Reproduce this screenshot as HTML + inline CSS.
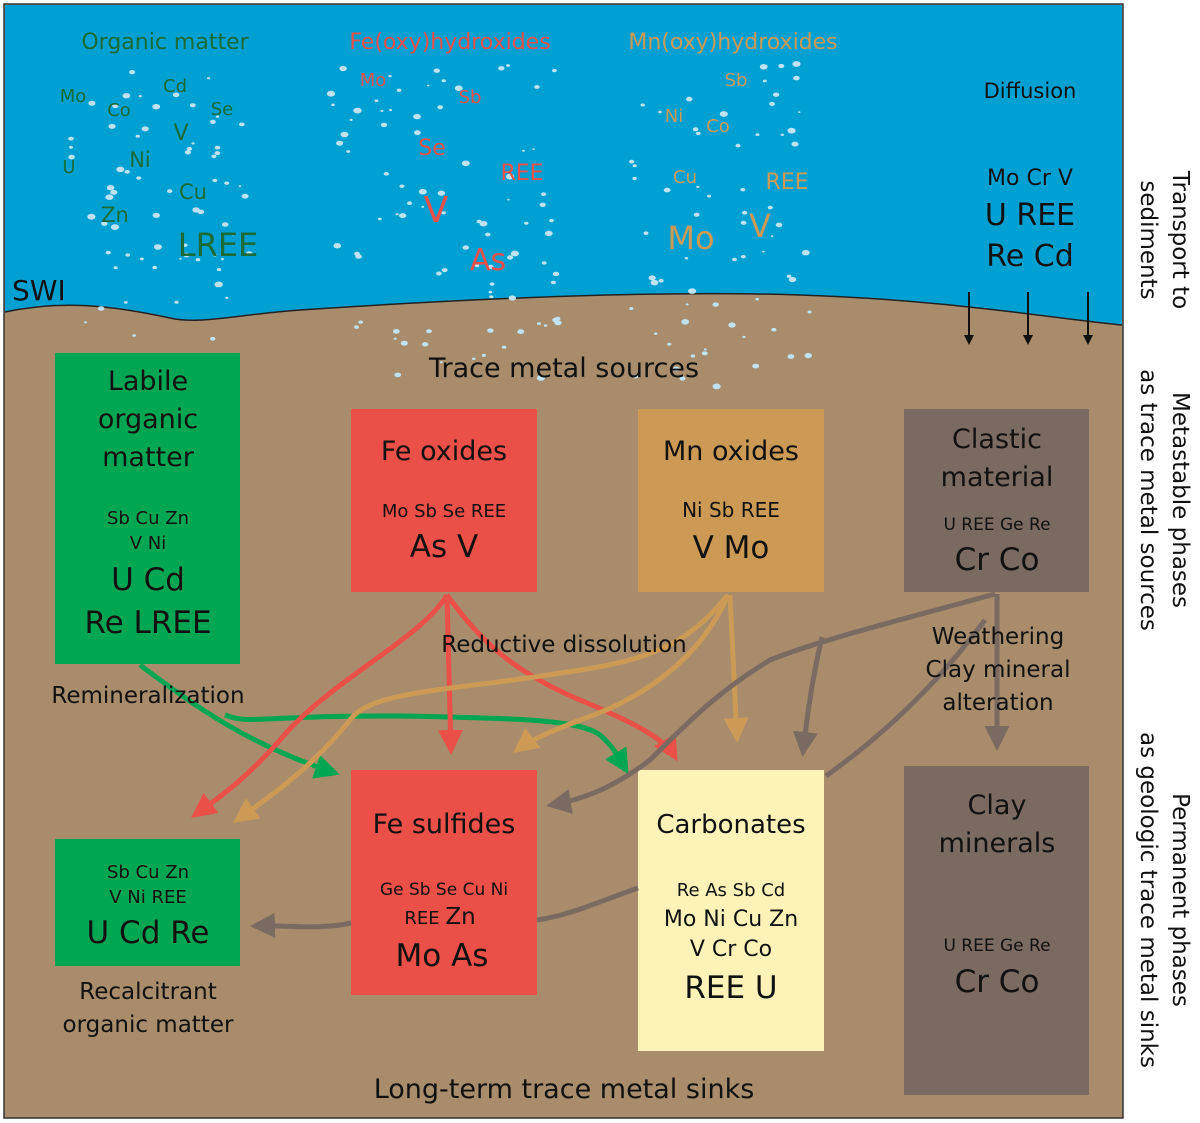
<!DOCTYPE html>
<html><head><meta charset="utf-8"><style>
html,body{margin:0;padding:0;background:#fff}
svg{display:block;font-family:"DejaVu Sans","Liberation Sans",sans-serif}
</style></head><body>
<svg width="1200" height="1123" viewBox="0 0 1200 1123" xmlns="http://www.w3.org/2000/svg">
<defs>
<marker id="ar" viewBox="0 0 10 10" refX="8" refY="5" markerWidth="5" markerHeight="5" orient="auto"><path d="M0,0L10,5L0,10z" fill="#ea4f48"/></marker>
<marker id="ay" viewBox="0 0 10 10" refX="8" refY="5" markerWidth="5" markerHeight="5" orient="auto"><path d="M0,0L10,5L0,10z" fill="#cc9a55"/></marker>
<marker id="ag" viewBox="0 0 10 10" refX="8" refY="5" markerWidth="5" markerHeight="5" orient="auto"><path d="M0,0L10,5L0,10z" fill="#00a651"/></marker>
<marker id="ab" viewBox="0 0 10 10" refX="8" refY="5" markerWidth="5" markerHeight="5" orient="auto"><path d="M0,0L10,5L0,10z" fill="#7b6a62"/></marker>
<marker id="ak" viewBox="0 0 10 10" refX="8" refY="5" markerWidth="5" markerHeight="5" orient="auto"><path d="M0,0L10,5L0,10z" fill="#111"/></marker>
</defs>
<rect x="4" y="4" width="1119" height="1114" fill="#a88c6c" stroke="#333" stroke-width="1.5"/>
<path d="M5,5H1122V325C1050,318 950,300 800,295C650,290 450,300 300,310C240,314 200,325 170,318C110,305 60,300 5,312Z" fill="#00a0d3"/>
<path d="M5,312C60,300 110,305 170,318C200,325 240,314 300,310C450,300 650,290 800,295C950,300 1050,318 1122,325" fill="none" stroke="#222" stroke-width="1.5"/>
<g id="dots" fill="#bfe3f2"></g>
<g text-anchor="middle">
<text x="165" y="49" font-size="22" fill="#1a6b36">Organic matter</text>
<text x="450" y="49" font-size="22" fill="#ea4f48">Fe(oxy)hydroxides</text>
<text x="733" y="49" font-size="22" fill="#cc9a55">Mn(oxy)hydroxides</text>
<g fill="#1a6b36">
<text x="73" y="102" font-size="18">Mo</text><text x="175" y="92" font-size="18">Cd</text>
<text x="119" y="116" font-size="18">Co</text><text x="222" y="115" font-size="18">Se</text>
<text x="181" y="140" font-size="22">V</text><text x="69" y="173" font-size="18">U</text>
<text x="140" y="167" font-size="21">Ni</text><text x="193" y="199" font-size="21">Cu</text>
<text x="115" y="222" font-size="21">Zn</text><text x="218" y="256" font-size="32">LREE</text>
</g>
<g fill="#ea4f48">
<text x="373" y="86" font-size="18">Mo</text><text x="470" y="103" font-size="18">Sb</text>
<text x="432" y="155" font-size="22">Se</text><text x="522" y="180" font-size="22">REE</text>
<text x="436" y="222" font-size="36">V</text><text x="488" y="270" font-size="30">As</text>
</g>
<g fill="#cc9a55">
<text x="736" y="86" font-size="18">Sb</text><text x="674" y="122" font-size="18">Ni</text>
<text x="718" y="132" font-size="18">Co</text><text x="685" y="183" font-size="18">Cu</text>
<text x="787" y="189" font-size="22">REE</text><text x="691" y="249" font-size="32">Mo</text>
<text x="760" y="237" font-size="32">V</text>
</g>
<g fill="#111">
<text x="1030" y="98" font-size="21">Diffusion</text>
<text x="1030" y="185" font-size="22">Mo Cr V</text>
<text x="1030" y="225" font-size="30">U REE</text>
<text x="1030" y="266" font-size="30">Re Cd</text>
</g>
</g>
<text x="12" y="300" font-size="28" fill="#111">SWI</text>
<g stroke="#111" stroke-width="2" marker-end="url(#ak)">
<line x1="969" y1="292" x2="969" y2="343"/><line x1="1028" y1="292" x2="1028" y2="343"/><line x1="1088" y1="292" x2="1088" y2="343"/>
</g>
<rect x="55" y="353" width="185" height="311" fill="#00a651"/>
<rect x="351" y="409" width="186" height="183" fill="#ea4f48"/>
<rect x="638" y="409" width="186" height="183" fill="#cc9a55"/>
<rect x="904" y="409" width="185" height="183" fill="#7b6a62"/>
<rect x="55" y="839" width="185" height="127" fill="#00a651"/>
<rect x="351" y="770" width="186" height="225" fill="#ea4f48"/>
<rect x="638" y="770" width="186" height="281" fill="#fdf3b8"/>
<rect x="904" y="766" width="185" height="329" fill="#7b6a62"/>
<g fill="none" stroke-width="5">
<path d="M140,665C200,710 250,745 335,773" stroke="#00a651" marker-end="url(#ag)"/>
<path d="M225,715C250,725 260,715 400,716C520,718 580,720 600,735C615,748 620,760 626,770" stroke="#00a651" marker-end="url(#ag)"/>
<path d="M447,595C420,640 330,680 280,740C240,785 215,800 195,815" stroke="#ea4f48" marker-end="url(#ar)"/>
<path d="M447,595L451,750" stroke="#ea4f48" marker-end="url(#ar)"/>
<path d="M447,595C480,640 510,670 580,700C640,725 665,740 675,757" stroke="#ea4f48" marker-end="url(#ar)"/>
<path d="M728,595C690,640 660,660 560,673C460,690 370,690 350,720C310,770 265,800 237,820" stroke="#cc9a55" marker-end="url(#ay)"/>
<path d="M728,595C700,660 640,700 580,720C550,732 530,740 517,750" stroke="#cc9a55" marker-end="url(#ay)"/>
<path d="M730,595L737,738" stroke="#cc9a55" marker-end="url(#ay)"/>
<path d="M995,594C900,620 820,640 770,660C720,690 690,720 650,760C610,790 580,800 551,805" stroke="#7b6a62" marker-end="url(#ab)"/>
<path d="M822,637C812,680 808,710 803,752" stroke="#7b6a62" marker-end="url(#ab)"/>
<path d="M997,594L997,746" stroke="#7b6a62" marker-end="url(#ab)"/>
<path d="M985,620C940,680 890,730 826,776" stroke="#7b6a62"/>
<path d="M638,888C590,905 570,915 537,920" stroke="#7b6a62"/>
<path d="M351,923C320,930 290,925 255,926" stroke="#7b6a62" marker-end="url(#ab)"/>
</g>
<g text-anchor="middle" fill="#111">
<text x="148" y="390" font-size="27">Labile</text>
<text x="148" y="428" font-size="27">organic</text>
<text x="148" y="466" font-size="27">matter</text>
<text x="148" y="524" font-size="18">Sb Cu Zn</text>
<text x="148" y="549" font-size="18">V Ni</text>
<text x="148" y="590" font-size="31">U Cd</text>
<text x="148" y="633" font-size="31">Re LREE</text>
<text x="444" y="460" font-size="27">Fe oxides</text>
<text x="444" y="517" font-size="18">Mo Sb Se REE</text>
<text x="444" y="557" font-size="31">As V</text>
<text x="731" y="460" font-size="27">Mn oxides</text>
<text x="731" y="517" font-size="20">Ni Sb REE</text>
<text x="731" y="558" font-size="31">V Mo</text>
<text x="997" y="448" font-size="27">Clastic</text>
<text x="997" y="486" font-size="27">material</text>
<text x="997" y="530" font-size="17">U REE Ge Re</text>
<text x="997" y="570" font-size="31">Cr Co</text>
<text x="148" y="878" font-size="18">Sb Cu Zn</text>
<text x="148" y="903" font-size="18">V Ni REE</text>
<text x="148" y="943" font-size="31">U Cd Re</text>
<text x="444" y="833" font-size="27">Fe sulfides</text>
<text x="444" y="895" font-size="17">Ge Sb Se Cu Ni</text>
<text x="440" y="924" font-size="18">REE <tspan font-size="23">Zn</tspan></text>
<text x="442" y="966" font-size="31">Mo As</text>
<text x="731" y="833" font-size="26">Carbonates</text>
<text x="731" y="896" font-size="18">Re As Sb Cd</text>
<text x="731" y="926" font-size="22">Mo Ni Cu Zn</text>
<text x="731" y="956" font-size="22">V Cr Co</text>
<text x="731" y="998" font-size="31">REE U</text>
<text x="997" y="814" font-size="27">Clay</text>
<text x="997" y="852" font-size="27">minerals</text>
<text x="997" y="951" font-size="17">U REE Ge Re</text>
<text x="997" y="992" font-size="31">Cr Co</text>
<text x="564" y="377" font-size="27">Trace metal sources</text>
<text x="564" y="652" font-size="23">Reductive dissolution</text>
<text x="148" y="703" font-size="23">Remineralization</text>
<text x="998" y="644" font-size="23">Weathering</text>
<text x="998" y="677" font-size="23">Clay mineral</text>
<text x="998" y="710" font-size="23">alteration</text>
<text x="148" y="999" font-size="23">Recalcitrant</text>
<text x="148" y="1032" font-size="23">organic matter</text>
<text x="564" y="1098" font-size="27">Long-term trace metal sinks</text>
</g>
<g text-anchor="middle" fill="#111" font-size="23">
<g transform="translate(1165,240) rotate(90)"><text x="0" y="-8">Transport to</text><text x="0" y="24">sediments</text></g>
<g transform="translate(1165,500) rotate(90)"><text x="0" y="-8">Metastable phases</text><text x="0" y="24">as trace metal sources</text></g>
<g transform="translate(1165,900) rotate(90)"><text x="0" y="-8">Permanent phases</text><text x="0" y="24">as geologic trace metal sinks</text></g>
</g>
</svg>
<script>
(function(){var s=12345;function r(){s=(s*1103515245+12345)%2147483648;return s/2147483648;}
var g=document.getElementById('dots'),ns='http://www.w3.org/2000/svg';
var zones=[[70,250,70,340,65],[330,560,60,390,85],[630,810,60,390,65]];
zones.forEach(function(z){for(var i=0;i<z[4];i++){var x=z[0]+r()*(z[1]-z[0]),y=z[2]+r()*(z[3]-z[2]);
var e=document.createElementNS(ns,'ellipse');e.setAttribute('cx',x.toFixed(1));e.setAttribute('cy',y.toFixed(1));
var a=1.2+r()*3;e.setAttribute('rx',a.toFixed(1));e.setAttribute('ry',(a*0.7).toFixed(1));g.appendChild(e);}});})();
</script>
</body></html>
